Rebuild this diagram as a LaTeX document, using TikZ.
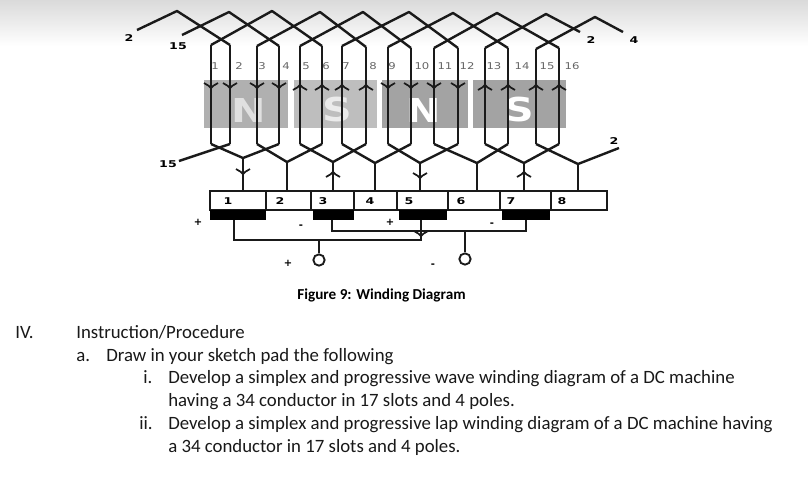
\documentclass[tikz,border=0pt]{standalone}
\usepackage{fontspec}
\setmainfont{Carlito}
\newfontfamily\lab{DejaVu Sans}
\usetikzlibrary{shadings}
\definecolor{polegray}{HTML}{A3A3A3}
\definecolor{polefirst}{HTML}{B0B0B0}
\definecolor{polelight}{HTML}{BEBEBE}
\definecolor{topgray}{HTML}{DADADA}
\definecolor{wirecol}{HTML}{1A1A1A}
\tikzset{
 wire/.style={draw=wirecol,line width=1.8pt,line join=round},
 thin wire/.style={draw=wirecol,line width=1.4pt,line join=miter},
 pole/.style={fill=polegray,draw=none,minimum height=36pt,anchor=north west,inner sep=0pt,outer sep=0pt},
 poleltr/.style={text=white,font=\lab\bfseries\fontsize{24.7}{25}\selectfont,inner sep=0pt,xscale=1.25},
 slotnum/.style={text=black!60,font=\lab\fontsize{7}{7}\selectfont,inner sep=0pt,xscale=1.25},
 coilnum/.style={font=\lab\bfseries\fontsize{7}{7}\selectfont,inner sep=0pt,xscale=1.35},
 segbox/.style={draw=wirecol,line width=1.4pt,fill=white,anchor=north west,inner sep=0pt,outer sep=0pt,minimum height=14.25pt},
 brushbox/.style={fill=black,anchor=north west,inner sep=0pt,outer sep=0pt,minimum height=7.5pt},
 termn/.style={circle,draw=wirecol,line width=1.4pt,fill=white,minimum size=8.5pt,inner sep=0pt},
 sign/.style={font=\lab\bfseries\fontsize{7.5}{7.5}\selectfont,inner sep=0pt},
 body/.style={font=\fontsize{14.1}{16}\selectfont,anchor=base west,inner sep=0pt,text=black!90},
 cap text/.style={font=\bfseries\fontsize{11.4}{13}\selectfont,inner sep=0pt}
}
\newcommand{\dnarrow}[2]{\draw[wirecol,line width=1.3pt] (#1-7,#2-2) .. controls (#1-4,#2) and (#1-1,#2+1) .. (#1,#2+3) .. controls (#1+1,#2+1) and (#1+4,#2) .. (#1+7,#2-2);}
\newcommand{\uparrowx}[2]{\draw[wirecol,line width=1.3pt] (#1-7,#2+2) .. controls (#1-4,#2) and (#1-1,#2-1) .. (#1,#2-3) .. controls (#1+1,#2-1) and (#1+4,#2) .. (#1+7,#2+2);}
\begin{document}
\begin{tikzpicture}[x=0.75pt,y=-0.75pt]
\useasboundingbox (0,0) rectangle (808,480);
\fill[white] (0,0) rectangle (808,480);
\shade[top color=topgray,bottom color=white] (0,0) rectangle (808,46);
% poles
\node[pole,fill=polefirst,minimum width=63pt] (p1) at (204,80) {};
\node[pole,fill=polelight,minimum width=62.25pt] (p2) at (294,80) {};
\node[pole,minimum width=64.5pt] (p3) at (382,80) {};
\node[pole,minimum width=69.75pt] (p4) at (473,80) {};
\node[poleltr,text=white!88!black] (ln1) at (249,110) {N};
\node[poleltr,text=white!92!black] (ls1) at (337,110) {S};
\node[poleltr] (ln2) at (424,110) {N};
\node[poleltr] (ls2) at (519,110) {S};
% conductor coordinates
\foreach \n/\x/\yt in {1/211/45,2/230/45,3/257/46,4/279/46,5/300/46,6/322/46,7/342/46,8/366/47,9/388/47,10/411/48,11/434/48,12/458/48,13/485/48,14/508/48,15/536/49,16/559/48}{
  \coordinate (t\n) at (\x,\yt);
  \coordinate (b\n) at (\x,144);
}
% slot numbers
\foreach \n/\x in {1/215,2/239,3/262,4/286,5/306,6/326,7/346,8/373,9/392,10/422,11/445,12/467,13/494,14/522,15/547,16/572}{
  \node[slotnum] (sn\n) at (\x,66) {\n};
}
% conductors
\foreach \n in {1,...,16}{ \draw[wire] (t\n) -- (b\n); }
% peaks
\foreach \n/\x/\y in {1/177/11,2/229/12,3/272/11,4/320/12,5/363/12,6/409/12,7/453/13,8/497/13,9/546/14,10/595/17}{
  \coordinate (pk\n) at (\x,\y);
}
\coordinate (e2a) at (137,30);
\coordinate (e15a) at (182,35);
\coordinate (e2b) at (580,32);
\coordinate (e4) at (623,32);
\coordinate (e15b) at (179,161);
\coordinate (e2c) at (619,148);
% top end windings
\draw[wire] (e2a) -- (pk1) -- (t2);
\draw[wire] (e15a) -- (pk2) -- (t4);
\draw[wire] (t1) -- (pk3) -- (t6);
\draw[wire] (t3) -- (pk4) -- (t8);
\draw[wire] (t5) -- (pk5) -- (t10);
\draw[wire] (t7) -- (pk6) -- (t12);
\draw[wire] (t9) -- (pk7) -- (t14);
\draw[wire] (t11) -- (pk8) -- (t16);
\draw[wire] (t13) -- (pk9) -- (e2b);
\draw[wire] (t15) -- (pk10) -- (e4);
% commutator segments
\foreach \n/\a/\w in {1/210/42,2/266/33.75,3/311/32.25,4/354/32.25,5/397/38.25,6/448/39,7/500/38.25,8/551/42}{
  \node[segbox,minimum width=\w pt] (seg\n) at (\a,191) {};
}
\foreach \n/\x in {1/228,2/280,3/323,4/370,5/409,6/461,7/511,8/562}{
  \node[coilnum] (sl\n) at (\x,201) {\n};
}
% risers
\foreach \n/\x/\y in {1/243/158,2/287/162,3/333/162,4/375/163,5/420/163,6/477/163,7/524/163,8/578/164}{
  \coordinate (r\n) at (\x,\y);
  \draw[wire] (r\n) -- (\x,191);
}
% lower end windings
\draw[wire] (e15b) -- (b2);
\draw[wire] (b1) -- (r1) -- (b4);
\draw[wire] (b3) -- (r2) -- (b6);
\draw[wire] (b5) -- (r3) -- (b8);
\draw[wire] (b7) -- (r4) -- (b10);
\draw[wire] (b9) -- (r5) -- (b12);
\draw[wire] (b11) -- (r6) -- (b14);
\draw[wire] (b13) -- (r7) -- (b16);
\draw[wire] (b15) -- (r8) -- (e2c);
% conductor arrows
\foreach \x in {211,230,257,279,388,411,434,458}{\dnarrow{\x}{85}}
\foreach \x in {300,322,342,366,485,508,536,559}{\uparrowx{\x}{88}}
\dnarrow{243}{171}
\uparrowx{333}{175}
\dnarrow{420}{175}
\uparrowx{524}{175}
% brushes
\node[brushbox,minimum width=42pt] (br1) at (210,210) {};
\node[brushbox,minimum width=31pt] (br2) at (313,210) {};
\node[brushbox,minimum width=36pt] (br3) at (399,210) {};
\node[brushbox,minimum width=36pt] (br4) at (502,210) {};
% brush wiring
\coordinate (j1) at (234,240);
\coordinate (j2) at (421,240);
\coordinate (j3) at (332,231);
\coordinate (j4) at (421,231);
\coordinate (j5) at (526,231);
\draw[thin wire] (br1.south -| j1) -- (j1) -- (j2) -- (br3.south -| j2);
\draw[thin wire] (br2.south -| j3) -- (j3) -- (j4);
\draw[thin wire] (br4.south -| j5) -- (j5) -- (j4);
\dnarrow{421}{233}
% terminals
\node[termn] (tp) at (319,260) {};
\node[termn] (tm) at (465,259) {};
\draw[thin wire] (tp |- j1) -- (tp);
\draw[thin wire] (tm |- j5) -- (tm);
% labels
\node[coilnum] (c2a) at (129,38) {2};
\node[coilnum] (c15a) at (178,46) {15};
\node[coilnum] (c2b) at (591,40) {2};
\node[coilnum] (c4) at (634,40) {4};
\node[coilnum] (c15b) at (168,164) {15};
\node[coilnum] (c2c) at (614,141) {2};
\node[sign] (s1) at (198,222) {+};
\node[sign] (s2) at (301,227) {-};
\node[sign] (s3) at (390,222) {+};
\node[sign] (s4) at (492,225) {-};
\node[sign] (s5) at (288,263) {+};
\node[sign] (s6) at (433,266) {-};
% text
\node[cap text] (cap) at (381.5,295) {Figure 9: Winding Diagram};
\node[body] (a1) at (15,338) {IV.};
\node[body] (a2) at (76,338) {Instruction/Procedure};
\node[body] (a3) at (76,361) {a.};
\node[body] (a4) at (106,361) {Draw in your sketch pad the following};
\node[body] (a5) at (143,383) {i.};
\node[body] (a6) at (168,383) {Develop a simplex and progressive wave winding diagram of a DC machine};
\node[body] (a7) at (168,406) {having a 34 conductor in 17 slots and 4 poles.};
\node[body] (a8) at (139,429) {ii.};
\node[body] (a9) at (168,429) {Develop a simplex and progressive lap winding diagram of a DC machine having};
\node[body] (a10) at (168,452) {a 34 conductor in 17 slots and 4 poles.};
\end{tikzpicture}
\end{document}
